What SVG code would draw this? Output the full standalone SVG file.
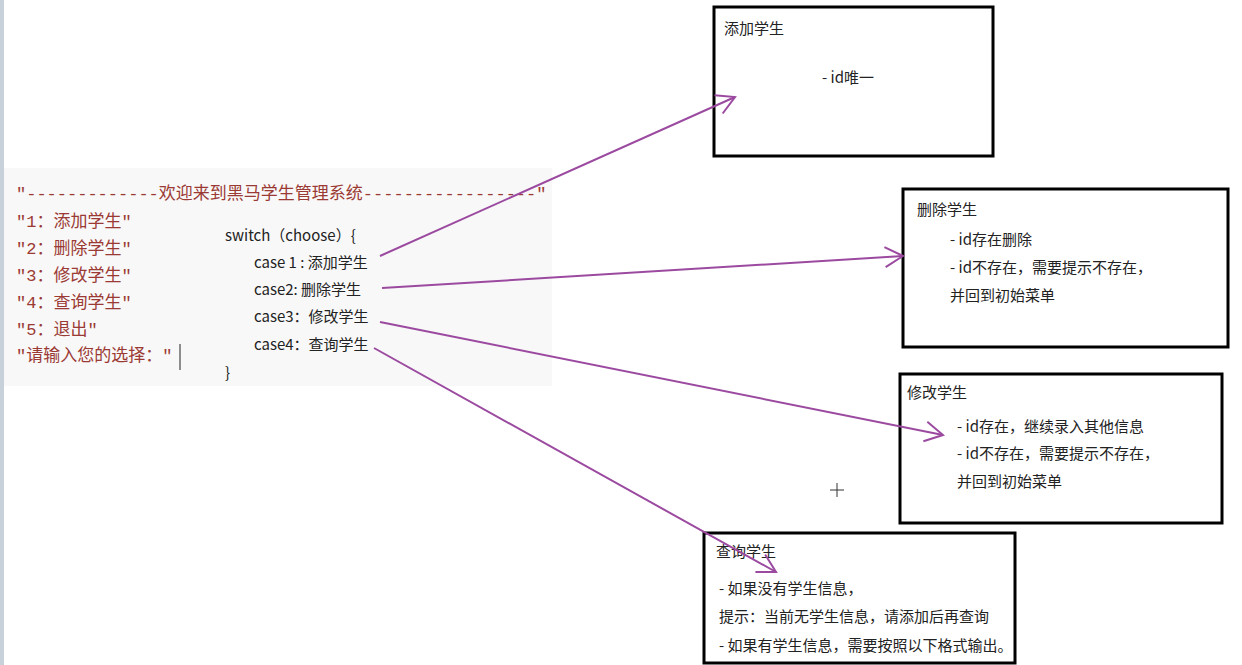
<svg xmlns="http://www.w3.org/2000/svg" width="1242" height="665" viewBox="0 0 1242 665">
<defs>
<style>
text{font-family:"Noto Sans CJK SC","Noto Sans",sans-serif;font-size:15px;fill:#222}
.r{fill:#9b3a34;font-size:17px;font-family:"Liberation Mono","Noto Sans CJK SC",monospace}
.box{fill:#fff;stroke:#000;stroke-width:3}
.c{stroke:#9b4aa0;stroke-width:2;fill:none}
</style>
<marker id="a" markerWidth="24" markerHeight="24" refX="20" refY="12" orient="auto" markerUnits="userSpaceOnUse">
<path d="M2,2 L20,12 L2,22" fill="none" stroke="#9b4aa0" stroke-width="2"/>
</marker>
</defs>
<rect width="1242" height="665" fill="#fff"/>
<rect x="0" y="0" width="4" height="665" fill="#c8d0dc"/>
<g id="menu">
<rect x="4" y="168" width="548" height="218" fill="#f8f8f8"/>
<text class="r" x="16" y="199">"-------------欢迎来到黑马学生管理系统-----------------"</text>
<text class="r" x="16" y="227">"1：添加学生"</text>
<text class="r" x="16" y="254">"2：删除学生"</text>
<text class="r" x="16" y="281">"3：修改学生"</text>
<text class="r" x="16" y="308">"4：查询学生"</text>
<text class="r" x="16" y="335">"5：退出"</text>
<text class="r" x="16" y="361">"请输入您的选择："</text>
<line x1="180" y1="344" x2="180" y2="370" stroke="#222"/>
<text x="225" y="241">switch（choose）{</text>
<text x="254" y="268">case 1 : 添加学生</text>
<text x="254" y="295">case2:  删除学生</text>
<text x="254" y="322">case3：修改学生</text>
<text x="254" y="350">case4：查询学生</text>
<text x="225" y="378">}</text>
</g>
<g id="add">
<rect class="box" x="714" y="7" width="279" height="149"/>
<text x="724" y="34">添加学生</text>
<text x="822" y="83">- id唯一</text>
</g>
<g id="del">
<rect class="box" x="903" y="189" width="325" height="158"/>
<text x="917" y="215">删除学生</text>
<text x="950" y="245">- id存在删除</text>
<text x="950" y="273">- id不存在，需要提示不存在，</text>
<text x="950" y="301">并回到初始菜单</text>
</g>
<g id="mod">
<rect class="box" x="900" y="374" width="322" height="149"/>
<text x="907" y="398">修改学生</text>
<text x="957" y="432">- id存在，继续录入其他信息</text>
<text x="957" y="459">- id不存在，需要提示不存在，</text>
<text x="957" y="487">并回到初始菜单</text>
</g>
<g id="query">
<rect class="box" x="704" y="533" width="311" height="130"/>
<text x="716" y="557">查询学生</text>
<text x="719" y="594">- 如果没有学生信息，</text>
<text x="719" y="622">提示：当前无学生信息，请添加后再查询</text>
<text x="719" y="651">- 如果有学生信息，需要按照以下格式输出。</text>
</g>
<g id="connectors">
<line class="c" x1="380" y1="256" x2="735" y2="97" marker-end="url(#a)"/>
<line class="c" x1="382" y1="288" x2="903" y2="256" marker-end="url(#a)"/>
<line class="c" x1="380" y1="322" x2="943" y2="435" marker-end="url(#a)"/>
<line class="c" x1="374" y1="348" x2="776" y2="572" marker-end="url(#a)"/>
</g>
<path d="M837,483 v14 M830,490 h14" stroke="#333" stroke-width="1"/>
</svg>
